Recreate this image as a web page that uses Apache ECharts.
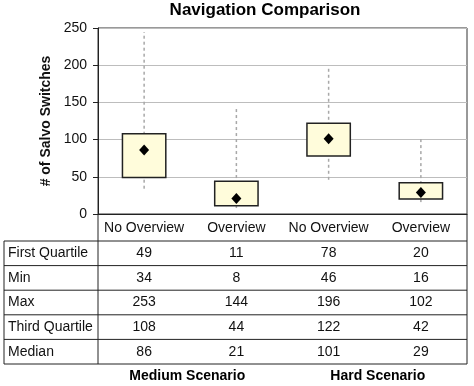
<!DOCTYPE html>
<html>
<head>
<meta charset="utf-8">
<script src="https://cdn.jsdelivr.net/npm/echarts@6/dist/echarts.min.js"></script>
<style>html,body{margin:0;padding:0;background:#fff}#c{width:474px;height:386px}</style>
</head>
<body>
<div id="c"></div>
<script>
const categories = ['No Overview', 'Overview', 'No Overview', 'Overview'];
const firstQuartile = [49, 11, 78, 20];
const minVals = [34, 8, 46, 16];
const maxVals = [253, 144, 196, 102];
const thirdQuartile = [108, 44, 122, 42];
const medians = [86, 21, 101, 29];
const rowLabels = ['First Quartile', 'Min', 'Max', 'Third Quartile', 'Median'];
const rowValues = [firstQuartile, minVals, maxVals, thirdQuartile, medians];
const scenarios = ['Medium Scenario', 'Hard Scenario'];
const yTicks = [0, 50, 100, 150, 200, 250];

const FONT = 'Liberation Sans, Arial, sans-serif';
const chart = echarts.init(document.getElementById('c'));

const seriesData = categories.map((c, i) => [i, minVals[i], firstQuartile[i], medians[i], thirdQuartile[i], maxVals[i]]);

chart.setOption({
  animation: false,
  title: {
    text: 'Navigation Comparison', left: 265, top: 2, textAlign: 'center', padding: 0,
    textStyle: {fontSize: 17, fontWeight: 'bold', fontFamily: FONT, color: '#000'}
  },
  grid: {left: 98, right: 7, top: 28, bottom: 172, show: true, borderColor: '#333', borderWidth: 1},
  xAxis: {
    type: 'category', data: categories,
    axisLine: {lineStyle: {color: '#222', width: 1}},
    axisTick: {show: false},
    axisLabel: {fontSize: 14, fontFamily: FONT, color: '#111', margin: 7, interval: 0, hideOverlap: false}
  },
  yAxis: {
    type: 'value', min: yTicks[0], max: yTicks[yTicks.length - 1], interval: 50,
    name: '# of Salvo Switches', nameLocation: 'middle', nameGap: 41,
    nameTextStyle: {fontSize: 14, fontWeight: 'bold', fontFamily: FONT, color: '#111'},
    axisLine: {show: true, lineStyle: {color: '#222', width: 1}},
    axisTick: {show: true, length: 5, lineStyle: {color: '#222'}},
    axisLabel: {fontSize: 14, fontFamily: FONT, color: '#111', margin: 11},
    splitLine: {lineStyle: {color: '#bdbdbd', width: 1}}
  },
  series: [{
    type: 'custom',
    data: seriesData,
    renderItem: function (params, api) {
      const x = api.value(0);
      const pMin = api.coord([x, api.value(1)]);
      const pQ1 = api.coord([x, api.value(2)]);
      const pMed = api.coord([x, api.value(3)]);
      const pQ3 = api.coord([x, api.value(4)]);
      const pMax = api.coord([x, api.value(5)]);
      const bw = api.size([1, 0])[0] * 0.47;
      const cs = params.coordSys;
      return {
        type: 'group',
        clipPath: {type: 'rect', shape: {x: cs.x, y: cs.y + 4, width: cs.width, height: cs.height - 4}},
        children: [
          {type: 'line', shape: {x1: pMin[0], y1: pMin[1], x2: pMax[0], y2: pMax[1]},
           style: {stroke: '#a8a8a8', lineWidth: 1.5, lineDash: [3, 3]}},
          {type: 'rect', shape: {x: pQ1[0] - bw / 2, y: pQ3[1], width: bw, height: pQ1[1] - pQ3[1]},
           style: {fill: '#fffcdb', stroke: '#222', lineWidth: 1.5}},
          {type: 'polygon', shape: {points: [[pMed[0], pMed[1] - 5.5], [pMed[0] + 5, pMed[1]], [pMed[0], pMed[1] + 5.5], [pMed[0] - 5, pMed[1]]]},
           style: {fill: '#000'}}
        ]
      };
    }
  }]
});

// Data table below the chart
const centers = categories.map((c, i) => chart.convertToPixel({xAxisIndex: 0}, i));
const left = 4, divX = 98, right = 467, tableTop = 241, rowH = 24.6, axisY = 214;
const g = [];
for (let r = 0; r <= rowLabels.length; r++) {
  const y = tableTop + r * rowH;
  g.push({type: 'line', shape: {x1: left, y1: y, x2: right, y2: y}, style: {stroke: '#222', lineWidth: 1}});
}
const tableBottom = tableTop + rowLabels.length * rowH;
g.push({type: 'line', shape: {x1: left, y1: tableTop, x2: left, y2: tableBottom}, style: {stroke: '#222', lineWidth: 1}});
g.push({type: 'line', shape: {x1: divX, y1: axisY, x2: divX, y2: tableBottom}, style: {stroke: '#222', lineWidth: 1}});
g.push({type: 'line', shape: {x1: right, y1: axisY, x2: right, y2: tableBottom}, style: {stroke: '#222', lineWidth: 1}});
rowLabels.forEach((lab, r) => {
  const cy = tableTop + (r + 0.5) * rowH;
  g.push({type: 'text', x: 8, y: cy, style: {text: lab, fontSize: 14, fontFamily: FONT, fill: '#111', verticalAlign: 'middle', align: 'left'}});
  rowValues[r].forEach((v, i) => {
    g.push({type: 'text', x: centers[i], y: cy, style: {text: String(v), fontSize: 14, fontFamily: FONT, fill: '#111', verticalAlign: 'middle', align: 'center'}});
  });
});
scenarios.forEach((s, k) => {
  const cx = (centers[2 * k] + centers[2 * k + 1]) / 2 + (k === 0 ? -3 : 3);
  g.push({type: 'text', x: cx, y: 376, style: {text: s, fontSize: 14, fontWeight: 'bold', fontFamily: FONT, fill: '#000', verticalAlign: 'middle', align: 'center'}});
});
chart.setOption({graphic: g});
</script>
</body>
</html>
